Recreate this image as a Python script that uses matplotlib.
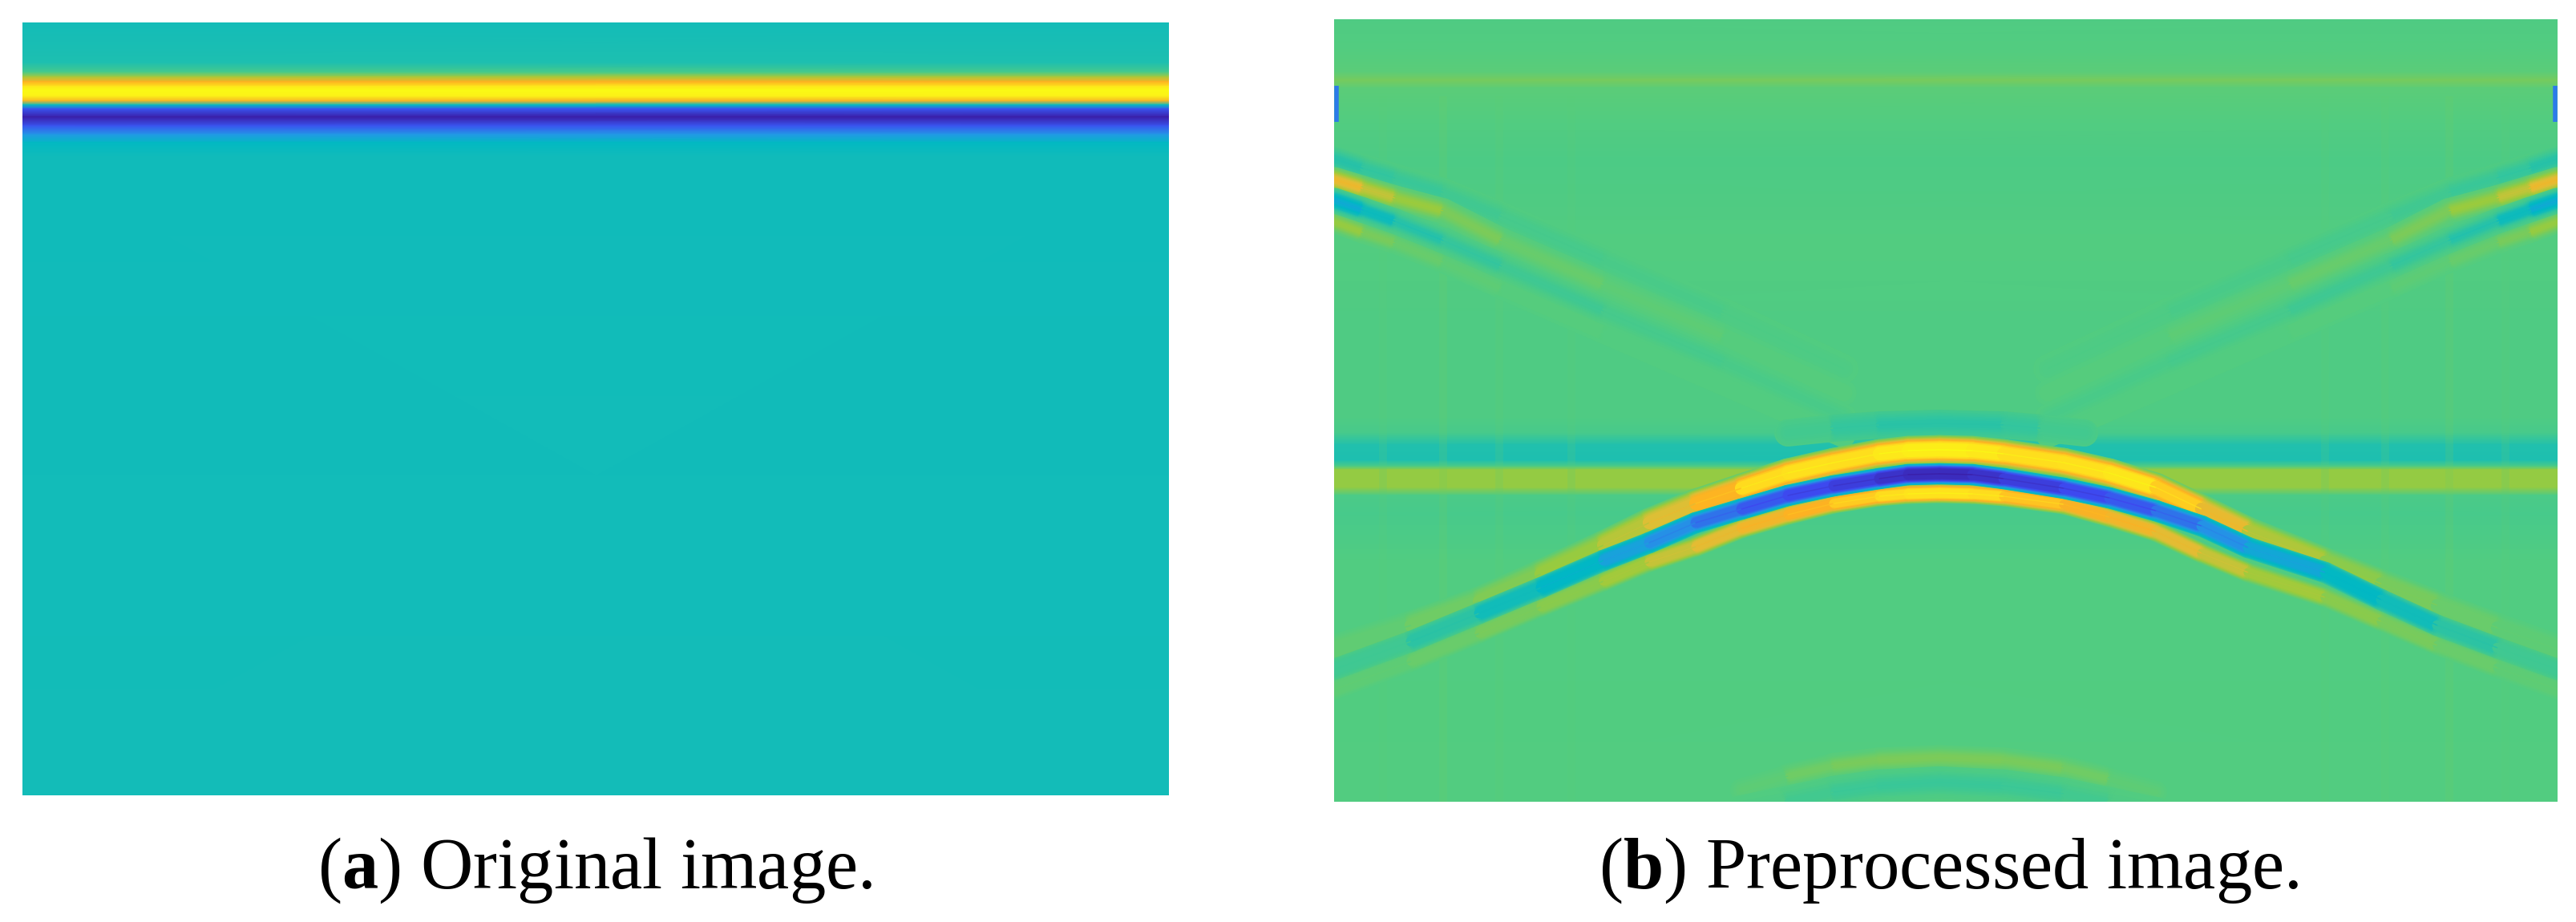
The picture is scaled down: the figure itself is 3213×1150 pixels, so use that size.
import numpy as np
import matplotlib
matplotlib.use("Agg")
import matplotlib.pyplot as plt
from matplotlib.collections import LineCollection
from matplotlib.colors import LinearSegmentedColormap

W = 3213
H = 1150

# colours, low to high
cmap_stops = [(0.0, "#3A1FA8"), (0.12, "#3D4AF0"), (0.25, "#2299E5"), (0.37, "#00B8C4"),
              (0.45, "#13BCB8"), (0.52, "#35C69C"), (0.6, "#52CC80"), (0.7, "#9BCB3C"),
              (0.8, "#E0BE35"), (0.86, "#FDB022"), (0.93, "#FFD91F"), (1.0, "#FAFA14")]
parula = LinearSegmentedColormap.from_list("parula_ish", cmap_stops)

# panel a: one value per row
a_rows = [28, 78, 90, 96, 102, 108, 113, 120, 126, 131, 136, 146, 157, 168, 178, 195, 992]
a_vals = [0.45, 0.47, 0.57, 0.72, 0.86, 0.96, 1.0, 0.98, 0.84, 0.4, 0.14, 0.0, 0.14, 0.25, 0.38, 0.44, 0.45]

# panel b background rows
b_rows = [24, 60, 90, 100, 110, 150, 200, 300, 400, 520, 540, 555, 574, 582, 586, 608, 618, 640, 700, 1000]
b_vals = [0.59, 0.6, 0.61, 0.65, 0.61, 0.6, 0.585, 0.6, 0.59, 0.59, 0.57, 0.48, 0.47, 0.6, 0.69, 0.69, 0.58, 0.57, 0.595, 0.6]

# the hump, read at these columns
hump_x = [1664, 1760, 1845, 1922, 2000, 2057, 2115, 2172, 2230, 2287, 2344, 2380, 2419, 2460, 2499, 2574, 2631, 2689, 2746, 2804, 2900, 2970, 3040, 3115, 3190]
upper_y = [810, 780, 750, 716, 680, 652, 628, 609, 590, 577, 566, 562, 561, 562, 566, 577, 590, 608, 635, 663, 701, 728, 755, 783, 810]
upper_peak = [0.61, 0.63, 0.65, 0.68, 0.72, 0.78, 0.84, 0.93, 0.98, 0.96, 0.97, 1.0, 1.0, 1.0, 0.97, 0.96, 0.98, 0.98, 0.88, 0.78, 0.7, 0.67, 0.64, 0.625, 0.61]
blue_y = [835, 800, 765, 733, 699, 677, 652, 635, 618, 606, 597, 592, 591, 592, 597, 609, 621, 637, 656, 683, 714, 748, 780, 808, 835]
blue_peak = [0.57, 0.52, 0.47, 0.4, 0.3, 0.24, 0.19, 0.14, 0.1, 0.08, 0.04, 0.01, 0.0, 0.01, 0.04, 0.08, 0.1, 0.14, 0.19, 0.25, 0.33, 0.4, 0.47, 0.52, 0.57]
lower_y = [860, 825, 790, 757, 725, 701, 682, 659, 642, 628, 619, 616, 615, 616, 619, 629, 645, 663, 690, 714, 745, 775, 805, 833, 860]
lower_peak = [0.61, 0.625, 0.64, 0.665, 0.69, 0.74, 0.8, 0.84, 0.86, 0.9, 0.95, 0.97, 0.98, 0.97, 0.95, 0.88, 0.86, 0.84, 0.8, 0.74, 0.69, 0.665, 0.64, 0.625, 0.61]

# X shaped lines going up to the edges
xl_x = [1664, 1700, 1740, 1800, 1873, 2000, 2150, 2300]
xl_yellow_y = [224, 235, 247, 263, 300, 355, 420, 490]
xl_yellow_peak = [0.86, 0.8, 0.72, 0.68, 0.64, 0.62, 0.61, 0.6]
xl_blue_y = [250, 262, 276, 300, 332, 388, 452, 520]
xl_blue_peak = [0.25, 0.37, 0.46, 0.5, 0.53, 0.56, 0.57, 0.58]
xl_low_y = [277, 290, 303, 327, 360, 415, 480, 545]
xl_low_peak = [0.72, 0.67, 0.64, 0.62, 0.61, 0.6, 0.6, 0.6]
xl_top_y = [198, 210, 222, 240, 270, 325, 390, 460]
xl_top_peak = [0.47, 0.5, 0.52, 0.54, 0.56, 0.57, 0.58, 0.59]

xr_x = [3190, 3154, 3114, 3054, 2981, 2854, 2704, 2554]

# faint arcs under the hump
arc_x = [2172, 2230, 2287, 2344, 2419, 2499, 2574, 2631, 2689]
arc1_y = [985, 968, 955, 948, 945, 948, 958, 972, 988]
arc1_peak = [0.6, 0.63, 0.65, 0.66, 0.66, 0.66, 0.65, 0.63, 0.6]
arc2_y = [1012, 1000, 988, 980, 976, 980, 990, 1002, 1014]
arc2_peak = [0.6, 0.57, 0.54, 0.53, 0.53, 0.53, 0.54, 0.57, 0.6]
halo_x = [2230, 2287, 2344, 2419, 2499, 2545, 2600]
halo_y = [540, 534, 530, 528, 530, 534, 540]
halo_peak = [0.58, 0.53, 0.5, 0.49, 0.5, 0.53, 0.58]

# faint vertical stripes
stripe_x = [1725, 1800, 1870, 1960, 2900, 2975, 3055, 3125]
stripe_v = [0.61, 0.64, 0.62, 0.61, 0.61, 0.62, 0.64, 0.61]

# short blue ticks on the edges of panel b
tick_x = [1667, 3187]
tick_top = 107
tick_bottom = 152

captions = [r"($\mathbf{a}$) Original image.", r"($\mathbf{b}$) Preprocessed image."]
caption_x = [742, 2431]
caption_y = 1108

plt.rcParams["font.family"] = ["Liberation Serif"]
plt.rcParams["mathtext.fontset"] = "custom"
plt.rcParams["mathtext.bf"] = "Liberation Serif:bold"
plt.rcParams["mathtext.rm"] = "Liberation Serif"


def panel(fig, x0, x1, y0, y1):
    ax = fig.add_axes([x0 / W, 1 - y1 / H, (x1 - x0) / W, (y1 - y0) / H])
    ax.set_xlim(x0, x1)
    ax.set_ylim(y1, y0)
    ax.axis("off")
    return ax


def rows_mesh(ax, x0, x1, rows, vals):
    z = np.column_stack([vals, vals])
    ax.pcolormesh([x0, x1], rows, z, shading="gouraud", cmap=parula, vmin=0, vmax=1)


def band(ax, xs, ys, peaks, sigma, f_low=0.1, bg=0.6, layers=14, power=0.5):
    # soft stroke: stack of lines, wide and weak to thin and strong
    pts = np.column_stack([xs, ys])
    segs = np.stack([pts[:-1], pts[1:]], axis=1)
    p = (np.array(peaks[:-1]) + np.array(peaks[1:])) / 2
    for f in np.linspace(f_low, 1, layers):
        w = 2 * sigma * (-2 * np.log(f)) ** power + 1.5
        vals = bg + (p - bg) * f
        lc = LineCollection(segs, array=vals, cmap=parula, norm=plt.Normalize(0, 1),
                            linewidths=w * 0.72, capstyle="round", joinstyle="round")
        ax.add_collection(lc)


fig = plt.figure(figsize=(W / 100, H / 100), dpi=100, facecolor="white")

ax_a = panel(fig, 28, 1458, 28, 992)
rows_mesh(ax_a, 28, 1458, a_rows, a_vals)

ax_b = panel(fig, 1664, 3190, 24, 1000)
rows_mesh(ax_b, 1664, 3190, b_rows, b_vals)

for sx, sv in zip(stripe_x, stripe_v):
    ax_b.vlines(sx, 120, 1000, color=parula(sv), lw=7, alpha=0.2)

for xs in (xl_x, xr_x):
    band(ax_b, xs, xl_top_y, xl_top_peak, 8)
    band(ax_b, xs, xl_low_y, xl_low_peak, 6)
    band(ax_b, xs, xl_yellow_y, xl_yellow_peak, 7)
    band(ax_b, xs, xl_blue_y, xl_blue_peak, 7)

band(ax_b, halo_x, halo_y, halo_peak, 12, f_low=0.4)
band(ax_b, arc_x, arc1_y, arc1_peak, 7)
band(ax_b, arc_x, arc2_y, arc2_peak, 9)

band(ax_b, hump_x, upper_y, upper_peak, 12, power=0.25)
band(ax_b, hump_x, lower_y, lower_peak, 8, power=0.25)
band(ax_b, hump_x, blue_y, blue_peak, 10, f_low=0.3, power=0.25)

for tx in tick_x:
    ax_b.vlines(tx, tick_top, tick_bottom, color=parula(0.2), lw=4)

for cap, cx in zip(captions, caption_x):
    fig.text(cx / W, 1 - caption_y / H, cap, fontsize=65.2, ha="center", va="baseline", color="black")

fig.savefig("out.png", dpi=100, facecolor="white")
